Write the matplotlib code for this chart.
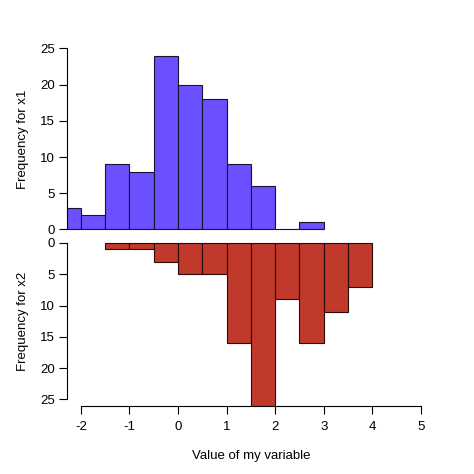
import matplotlib
matplotlib.use("Agg")
import matplotlib.pyplot as plt
import numpy as np

plt.rcParams['font.family'] = ['Liberation Sans', 'DejaVu Sans']
plt.rcParams['axes.unicode_minus'] = False

# histogram bins (width 0.5) and counts
edges_x1 = [-2.5, -2.0, -1.5, -1.0, -0.5, 0.0, 0.5, 1.0, 1.5, 2.0, 2.5, 3.0]
counts_x1 = [3, 2, 9, 8, 24, 20, 18, 9, 6, 0, 1]
edges_x2 = [-1.5, -1.0, -0.5, 0.0, 0.5, 1.0, 1.5, 2.0, 2.5, 3.0, 3.5, 4.0]
counts_x2 = [1, 1, 3, 5, 5, 16, 26, 9, 16, 11, 7]

x_ticks = [-2, -1, 0, 1, 2, 3, 4, 5]
y_ticks = [0, 5, 10, 15, 20, 25]

blue = '#6a50ff'
red = '#c0392b'

fig = plt.figure(figsize=(4.74, 4.74), dpi=100)
left, width = 0.1418, 0.775
ax1 = fig.add_axes([left, 0.5006, width, 0.4127])
ax2 = fig.add_axes([left, 0.1441, width, 0.3565])

# R style: 4% padding round xlim = (-2, 5) and ylim = (0, 25)
xlim = (-2 - 0.28, 5 + 0.28)

ax1.bar(edges_x1[:-1], counts_x1, width=np.diff(edges_x1), align='edge',
        facecolor=blue, edgecolor='#151530', linewidth=0.8)
ax1.set_xlim(xlim)
ax1.set_ylim(-1, 26)

ax2.bar(edges_x2[:-1], counts_x2, width=np.diff(edges_x2), align='edge',
        facecolor=red, edgecolor='#2a0a08', linewidth=0.8)
ax2.set_xlim(xlim)
ax2.set_ylim(26, -1)

for ax in (ax1, ax2):
    for s in ('top', 'right', 'bottom'):
        ax.spines[s].set_visible(False)
    ax.spines['left'].set_bounds(0, 25)
    ax.spines['left'].set_linewidth(0.8)
    ax.set_yticks(y_ticks)
    ax.tick_params(axis='y', length=6, width=0.8, labelsize=9.5, pad=3)
    ax.set_facecolor('none')

ax1.set_xticks([])
ax1.set_ylabel('Frequency for x1', fontsize=9.5, labelpad=8)
ax2.set_ylabel('Frequency for x2', fontsize=9.5, labelpad=8)

ax2.spines['bottom'].set_visible(True)
ax2.spines['bottom'].set_bounds(-2, 5)
ax2.spines['bottom'].set_linewidth(0.8)
ax2.set_xticks(x_ticks)
ax2.tick_params(axis='x', length=6, width=0.8, labelsize=9.5, pad=5)
ax2.set_xlabel('Value of my variable', fontsize=9.5, labelpad=12)

fig.savefig('out.png', dpi=100)
